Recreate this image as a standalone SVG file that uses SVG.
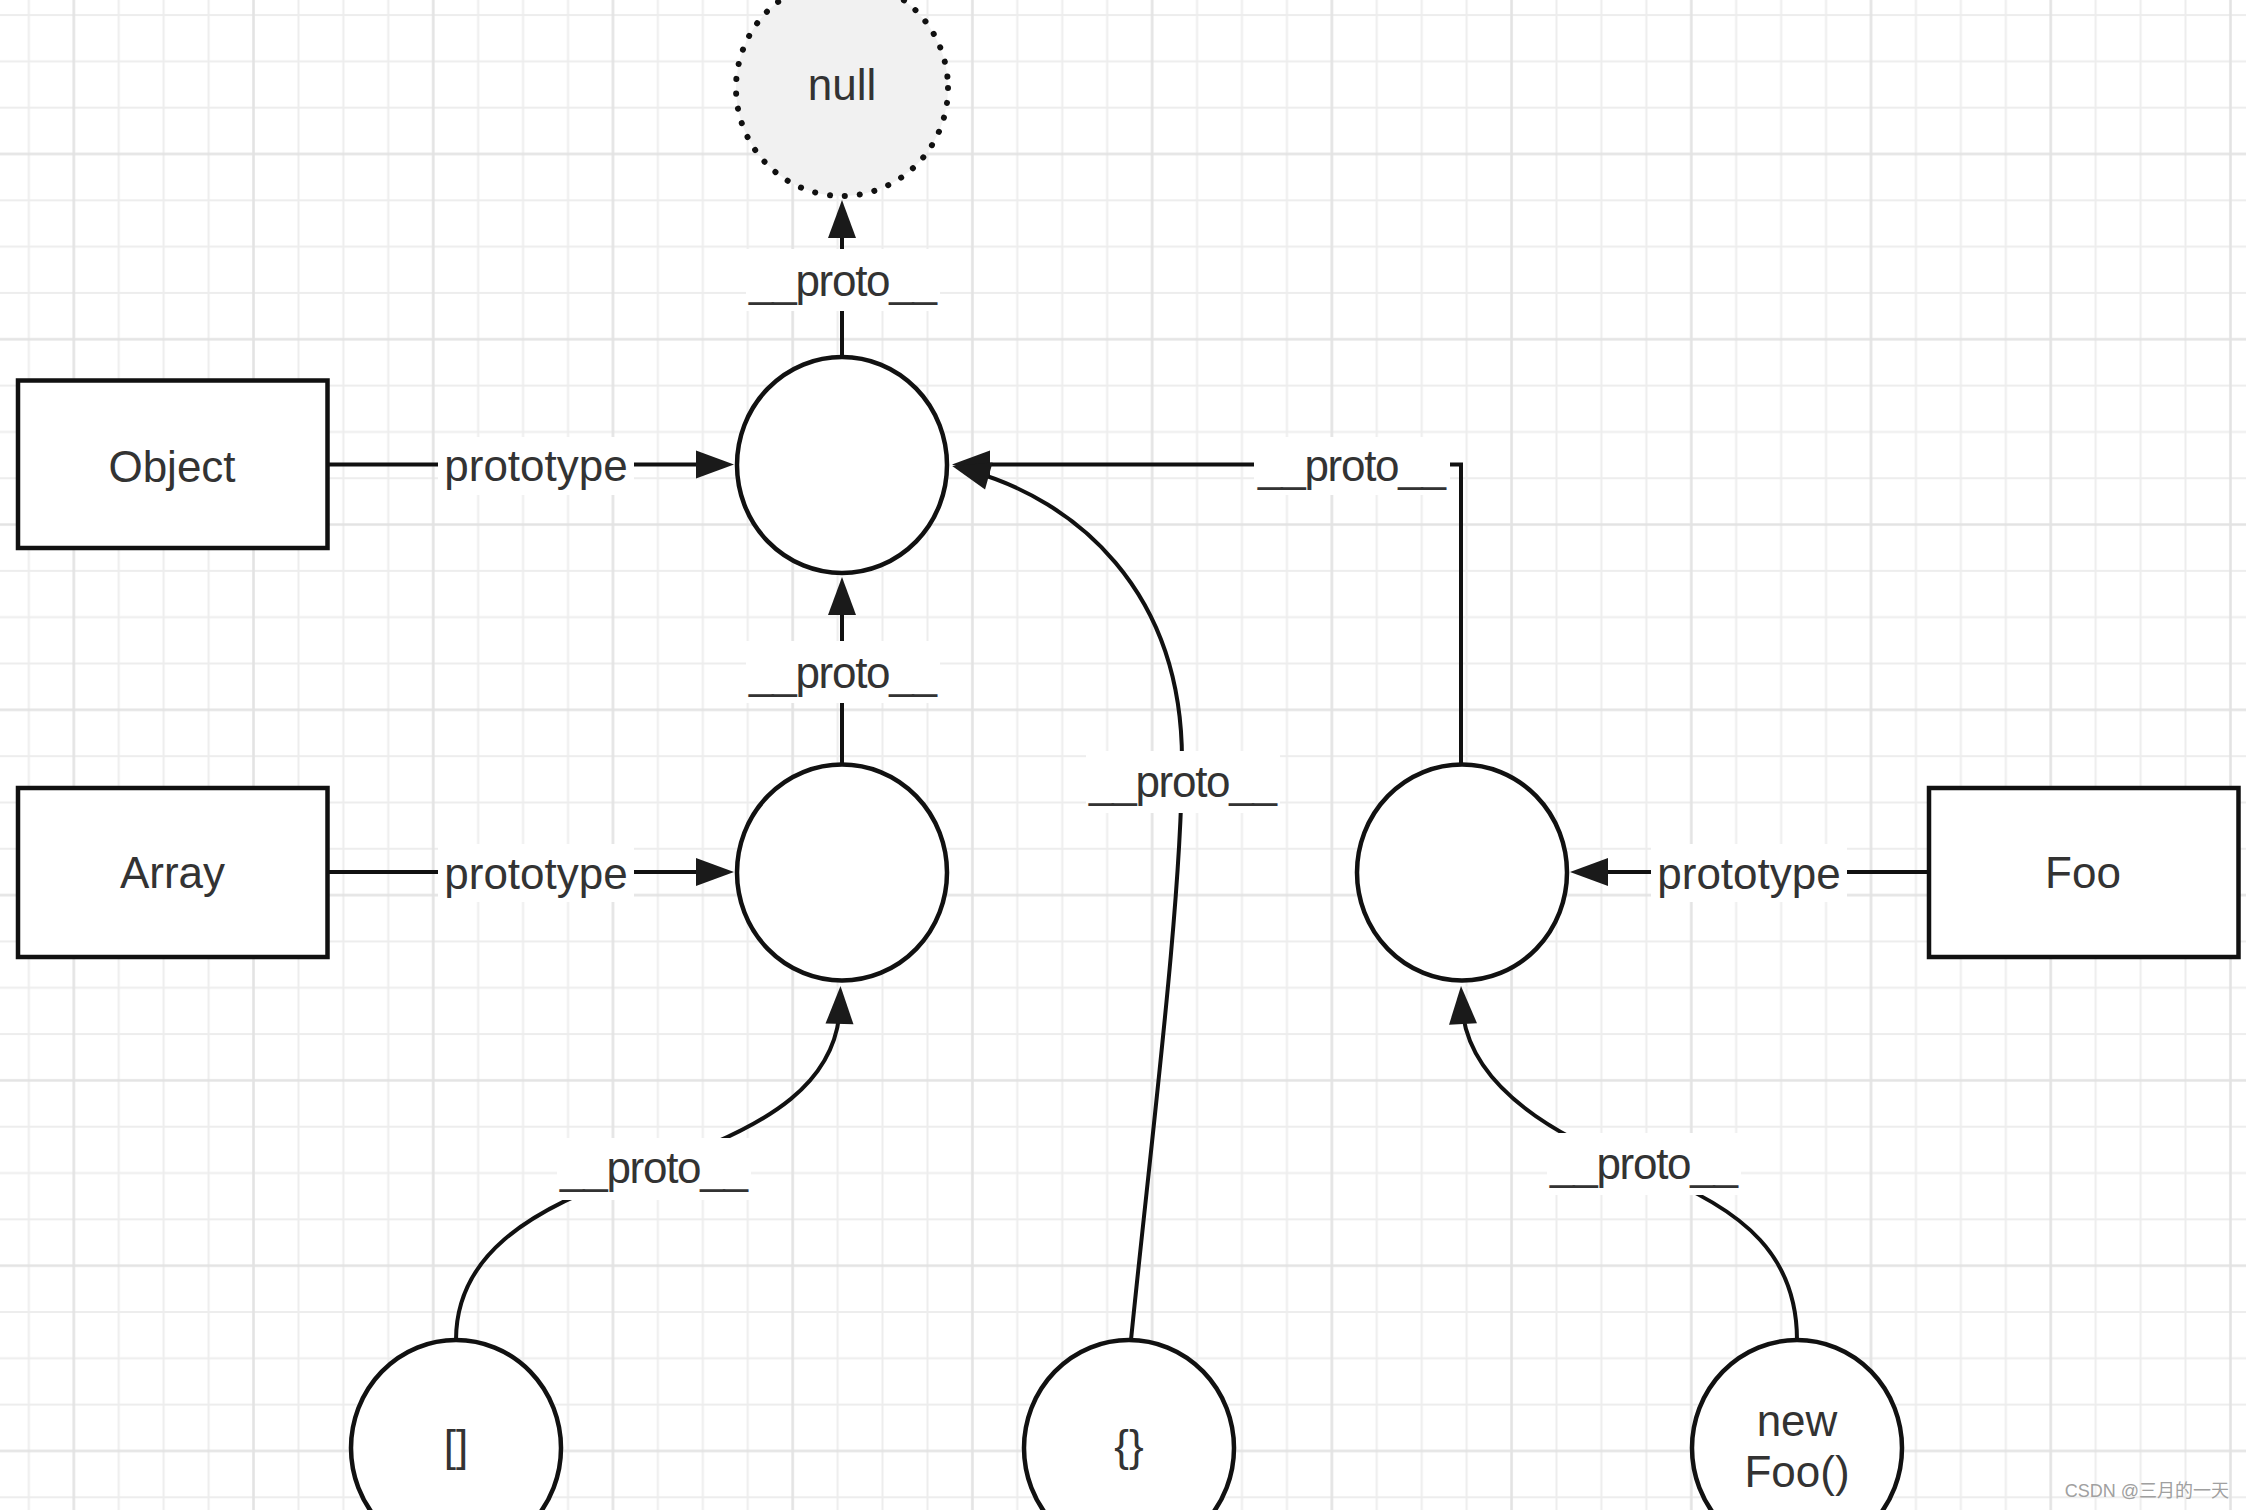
<svg xmlns="http://www.w3.org/2000/svg" width="2246" height="1510" viewBox="0 0 2246 1510">
<style>
.node{fill:#fff;stroke:#111;stroke-width:4.5}
.nullc{fill:#f1f1f1;stroke:#111;stroke-width:6;stroke-dasharray:0.1 14.9;stroke-linecap:round}
.t{font-family:"Liberation Sans",Arial,Helvetica,sans-serif;font-size:44px;fill:#333;text-anchor:middle}
.edge{fill:none;stroke:#111;stroke-width:4;marker-end:url(#ah)}
.lbg{fill:#fff}
.minor{stroke:#ededed;stroke-width:2}
.major{stroke:#e3e3e3;stroke-width:2.6}
.wm{font-family:"Liberation Sans","Noto Sans CJK SC",sans-serif;font-size:18px;fill:#a0a0a0;text-anchor:end}
</style>
<defs>
<marker id="ah" markerUnits="userSpaceOnUse" markerWidth="40" markerHeight="30" viewBox="0 0 40 30" refX="20" refY="15" orient="auto">
<path d="M1,1 L39,15 L1,29 Z" fill="#1a1a1a"/>
</marker>
<pattern id="grid" patternUnits="userSpaceOnUse" x="72.3" y="152.5" width="179.72" height="185.28">
<g class="minor">
<line x1="46.43" y1="0" x2="46.43" y2="185.28"/>
<line x1="91.36" y1="0" x2="91.36" y2="185.28"/>
<line x1="136.29" y1="0" x2="136.29" y2="185.28"/>
<line x1="0" y1="47.82" x2="179.72" y2="47.82"/>
<line x1="0" y1="94.14" x2="179.72" y2="94.14"/>
<line x1="0" y1="140.46" x2="179.72" y2="140.46"/>
</g>
<g class="major">
<line x1="1.5" y1="0" x2="1.5" y2="185.28"/>
<line x1="0" y1="1.5" x2="179.72" y2="1.5"/>
</g>
</pattern>
</defs>
<rect width="2246" height="1510" fill="#fff"/>
<rect id="grid-bg" width="2246" height="1510" fill="url(#grid)"/>

<g id="null-node">
<ellipse class="nullc" cx="842" cy="88" rx="106" ry="108"/>
<text class="t" x="842" y="100">null</text>
</g>
<g id="object-prototype">
<ellipse class="node" cx="842" cy="465" rx="105" ry="108"/>
</g>
<g id="array-prototype">
<ellipse class="node" cx="842" cy="872.5" rx="105" ry="108"/>
</g>
<g id="foo-prototype">
<ellipse class="node" cx="1462" cy="872.5" rx="105" ry="108"/>
</g>
<g id="object">
<rect class="node" x="18" y="380.5" width="309.5" height="167.5"/>
<text class="t" x="172" y="481.5">Object</text>
</g>
<g id="array">
<rect class="node" x="18" y="788" width="309.5" height="169"/>
<text class="t" x="172.5" y="887.5">Array</text>
</g>
<g id="foo">
<rect class="node" x="1929" y="788" width="309.5" height="169"/>
<text class="t" x="2083" y="887.5">Foo</text>
</g>
<g id="array-literal">
<ellipse class="node" cx="456" cy="1448" rx="105" ry="108"/>
<text class="t" x="456" y="1461">[]</text>
</g>
<g id="object-literal">
<ellipse class="node" cx="1129" cy="1448" rx="105" ry="108"/>
<text class="t" x="1129" y="1461">{}</text>
</g>
<g id="new-foo">
<ellipse class="node" cx="1797" cy="1448" rx="105" ry="108"/>
<text class="t" x="1797" y="1436">new</text>
<text class="t" x="1797" y="1487">Foo()</text>
</g>

<g id="connectors">
<path class="edge" d="M327.5 464.5 H715"/>
<path class="edge" d="M327.5 872 H715"/>
<path class="edge" d="M1929 872 H1589"/>
<path class="edge" d="M842 764.5 V596"/>
<path class="edge" d="M842 357 V219"/>
<path class="edge" d="M1461 764.5 V464.5 H971"/>
<path class="edge" d="M1131 1340 C1150 1150 1182 900 1182 760 C1182 590 1075 500 970.5 471"/>
<path class="edge" d="M456 1340 C456 1260 520 1210 648 1168 C775 1126 838 1080 840 1005"/>
<path class="edge" d="M1797 1340 C1797 1260 1750 1210 1643 1170 C1545 1133 1466 1080 1462 1005"/>
</g>
<g id="connector-labels">
<g><rect class="lbg" x="438" y="437" width="196" height="58"/><text class="t" x="536" y="481">prototype</text></g>
<g><rect class="lbg" x="438" y="844" width="196" height="58"/><text class="t" x="536" y="888.5">prototype</text></g>
<g><rect class="lbg" x="1651" y="844" width="196" height="58"/><text class="t" x="1749" y="888.5">prototype</text></g>
<g><rect class="lbg" x="746" y="249" width="194" height="62"/><text class="t" x="843" y="296" textLength="188">__proto__</text></g>
<g><rect class="lbg" x="746" y="641" width="194" height="62"/><text class="t" x="843" y="688" textLength="188">__proto__</text></g>
<g><rect class="lbg" x="1254" y="437" width="196" height="58"/><text class="t" x="1352" y="481" textLength="188">__proto__</text></g>
<g><rect class="lbg" x="1086" y="751" width="194" height="62"/><text class="t" x="1183" y="797" textLength="188">__proto__</text></g>
<g><rect class="lbg" x="557" y="1138" width="194" height="62"/><text class="t" x="654" y="1183" textLength="188">__proto__</text></g>
<g><rect class="lbg" x="1547" y="1133" width="194" height="62"/><text class="t" x="1644" y="1179" textLength="188">__proto__</text></g>
</g>
<text class="wm" x="2229" y="1497">CSDN @三月的一天</text>
</svg>
